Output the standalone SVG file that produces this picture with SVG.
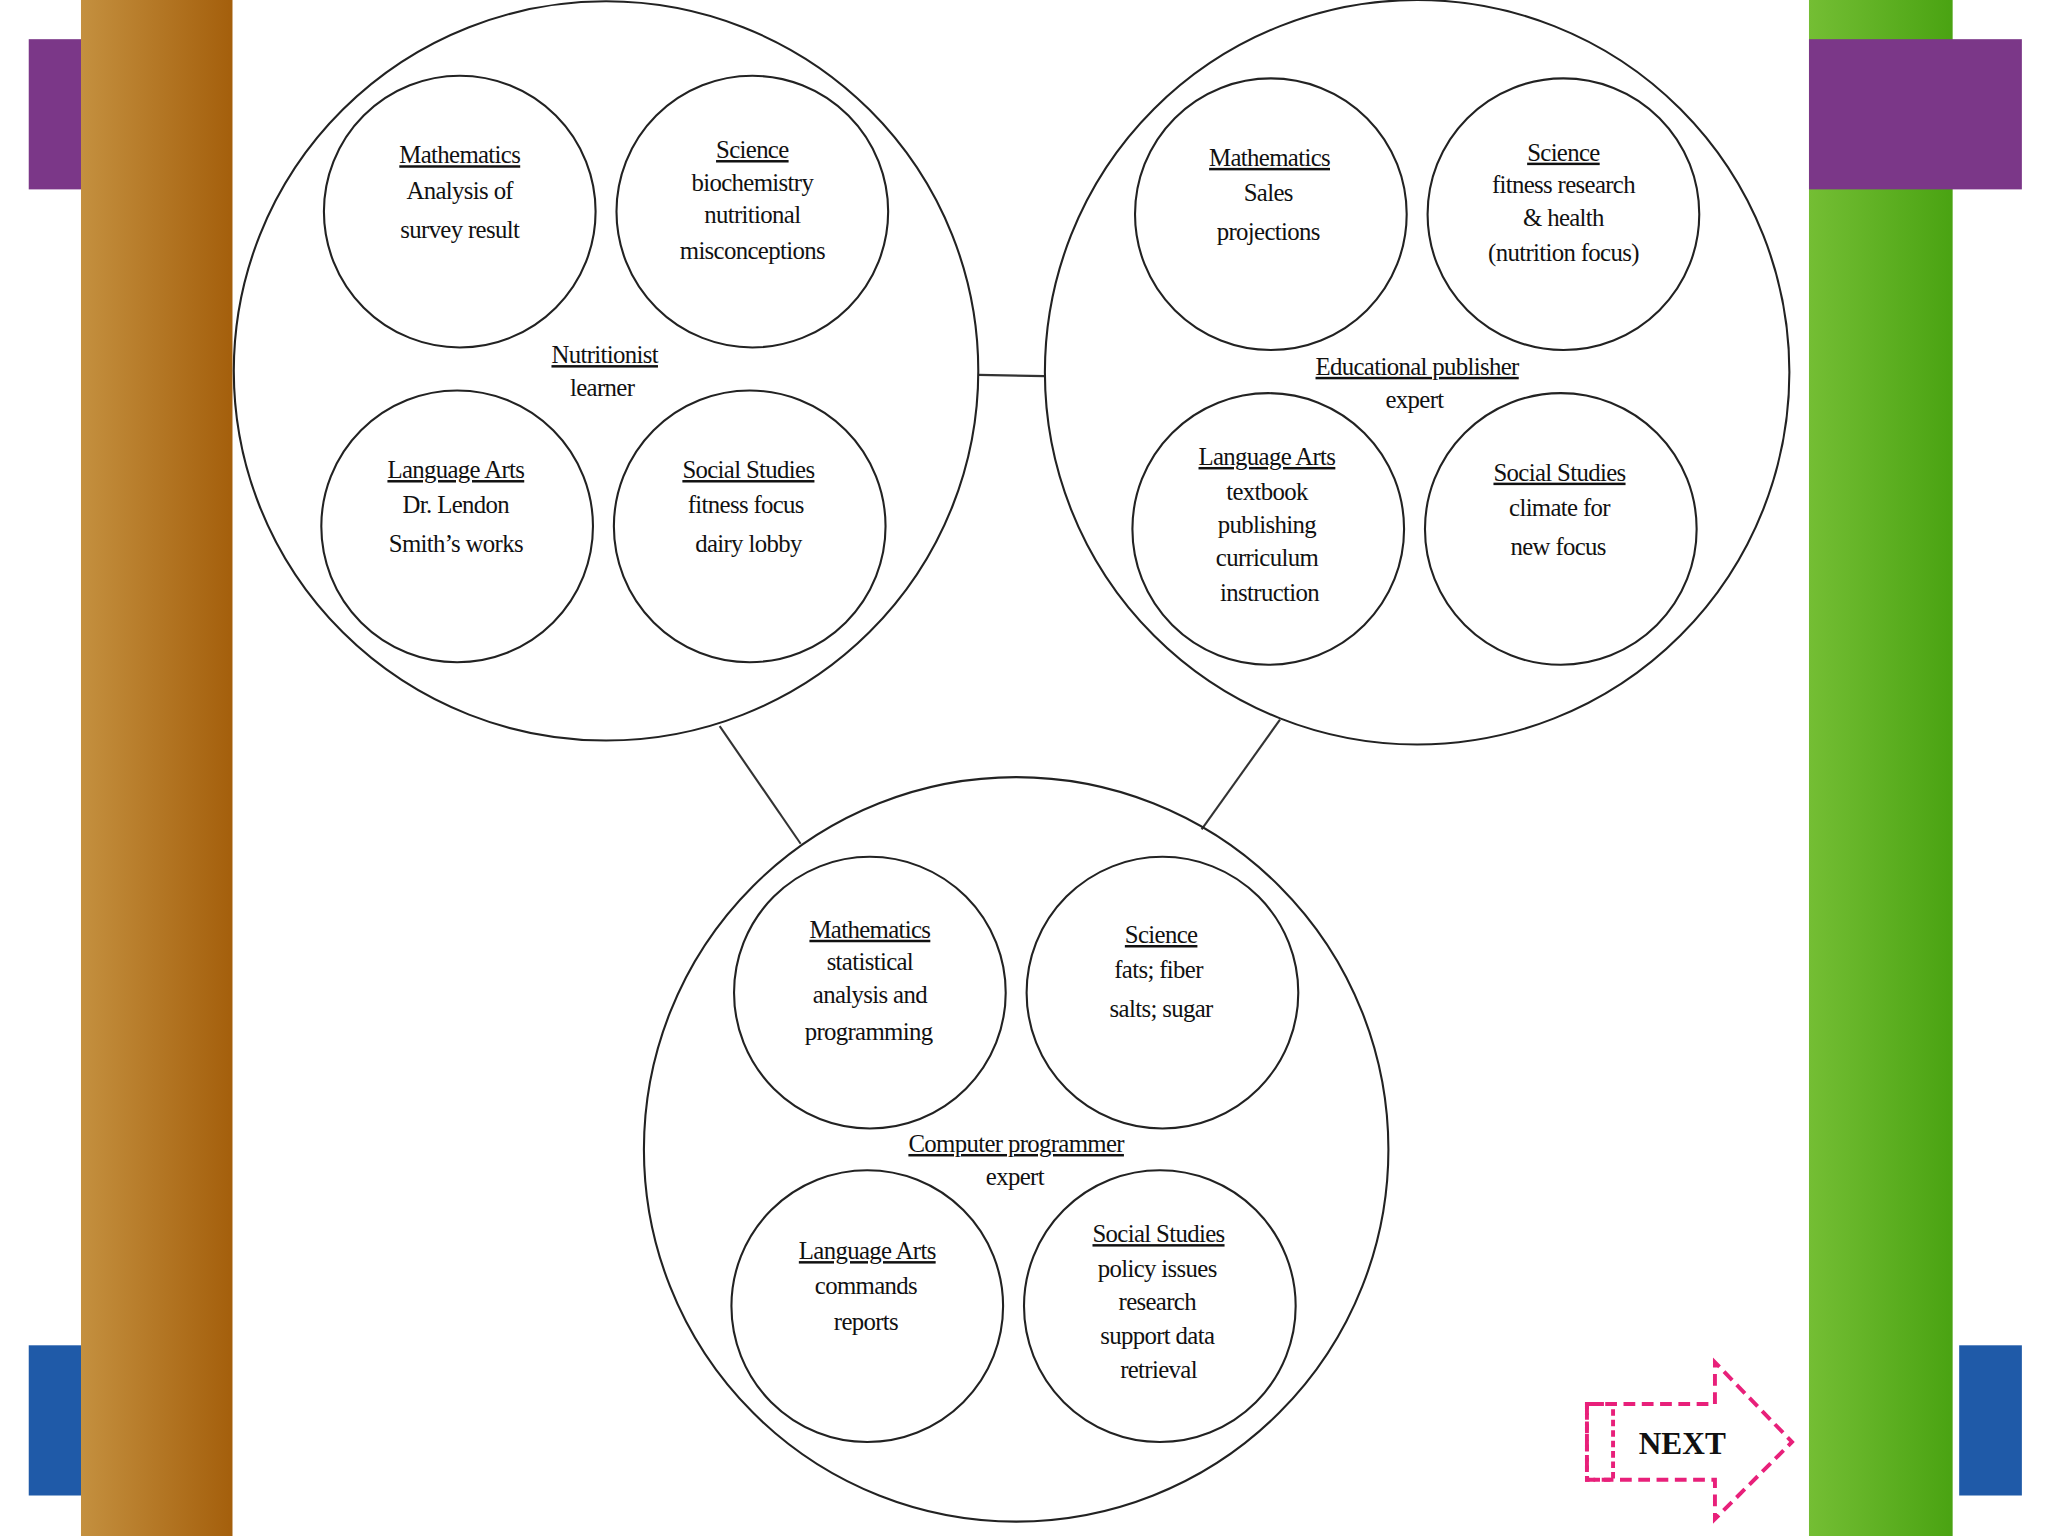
<svg xmlns="http://www.w3.org/2000/svg" width="2048" height="1536" viewBox="0 0 2048 1536">
<style>
.big,.sm{fill:none;stroke:#222;stroke-width:1.6}
.t{font-family:'Liberation Serif','Times New Roman',serif;font-size:19px;fill:#111;text-anchor:middle;letter-spacing:-0.5px}
.h{text-decoration:underline}
.c{stroke:#333;stroke-width:1.6}
</style>
<defs>
<linearGradient id="br" x1="0" x2="1"><stop offset="0" stop-color="#c4903f"/><stop offset="1" stop-color="#a45f0c"/></linearGradient>
<linearGradient id="gr" x1="0" x2="1"><stop offset="0" stop-color="#74be34"/><stop offset="1" stop-color="#4aa312"/></linearGradient>
</defs>
<rect width="2048" height="1536" fill="#fff"/>
<g transform="scale(1.30612)" font-family="Liberation Serif, serif">
<rect x="22" y="30" width="50" height="115" fill="#7b3788"/>
<rect x="22" y="1030" width="50" height="115" fill="#1f5aa8"/>
<rect x="62" y="0" width="116" height="1176" fill="url(#br)"/>
<rect x="1385" y="0" width="110" height="1176" fill="url(#gr)"/>
<rect x="1385" y="30" width="163" height="115" fill="#7b3788"/>
<rect x="1500" y="1030" width="48" height="115" fill="#1f5aa8"/>
<g id="connectors">
<line class="c" x1="749" y1="287" x2="800" y2="288"/>
<line class="c" x1="551" y1="556" x2="613" y2="646"/>
<line class="c" x1="980" y1="551" x2="920" y2="635"/>
</g>
<g id="nutritionist">
<ellipse class="big" cx="464" cy="284" rx="285" ry="283"/>
<text class="t h" x="463" y="278">Nutritionist</text><text class="t" x="461" y="303">learner</text>
<circle class="sm" cx="352" cy="162" r="104"/>
<text class="t h" x="352" y="125">Mathematics</text><text class="t" x="352" y="152">Analysis of</text><text class="t" x="352" y="182">survey result</text>
<circle class="sm" cx="576" cy="162" r="104"/>
<text class="t h" x="576" y="121">Science</text><text class="t" x="576" y="146">biochemistry</text><text class="t" x="576" y="171">nutritional</text><text class="t" x="576" y="198">misconceptions</text>
<circle class="sm" cx="350" cy="403" r="104"/>
<text class="t h" x="349" y="366">Language Arts</text><text class="t" x="349" y="393">Dr. Lendon</text><text class="t" x="349" y="423">Smith’s works</text>
<circle class="sm" cx="574" cy="403" r="104"/>
<text class="t h" x="573" y="366">Social Studies</text><text class="t" x="571" y="393">fitness focus</text><text class="t" x="573" y="423">dairy lobby</text>
</g>
<g id="publisher">
<circle class="big" cx="1085" cy="285" r="285"/>
<text class="t h" x="1085" y="287">Educational publisher</text><text class="t" x="1083" y="312">expert</text>
<circle class="sm" cx="973" cy="164" r="104"/>
<text class="t h" x="972" y="127">Mathematics</text><text class="t" x="971" y="154">Sales</text><text class="t" x="971" y="184">projections</text>
<circle class="sm" cx="1197" cy="164" r="104"/>
<text class="t h" x="1197" y="123">Science</text><text class="t" x="1197" y="148">fitness research</text><text class="t" x="1197" y="173">&amp; health</text><text class="t" x="1197" y="200">(nutrition focus)</text>
<circle class="sm" cx="971" cy="405" r="104"/>
<text class="t h" x="970" y="356">Language Arts</text><text class="t" x="970" y="383">textbook</text><text class="t" x="970" y="408">publishing</text><text class="t" x="970" y="433">curriculum</text><text class="t" x="972" y="460">instruction</text>
<circle class="sm" cx="1195" cy="405" r="104"/>
<text class="t h" x="1194" y="368">Social Studies</text><text class="t" x="1194" y="395">climate for</text><text class="t" x="1193" y="425">new focus</text>
</g>
<g id="programmer">
<circle class="big" cx="778" cy="880" r="285"/>
<text class="t h" x="778" y="882">Computer programmer</text><text class="t" x="777" y="907">expert</text>
<circle class="sm" cx="666" cy="760" r="104"/>
<text class="t h" x="666" y="718">Mathematics</text><text class="t" x="666" y="743">statistical</text><text class="t" x="666" y="768">analysis and</text><text class="t" x="665" y="796">programming</text>
<circle class="sm" cx="890" cy="760" r="104"/>
<text class="t h" x="889" y="722">Science</text><text class="t" x="887" y="749">fats; fiber</text><text class="t" x="889" y="779">salts; sugar</text>
<circle class="sm" cx="664" cy="1000" r="104"/>
<text class="t h" x="664" y="964">Language Arts</text><text class="t" x="663" y="991">commands</text><text class="t" x="663" y="1018">reports</text>
<circle class="sm" cx="888" cy="1000" r="104"/>
<text class="t h" x="887" y="951">Social Studies</text><text class="t" x="886" y="978">policy issues</text><text class="t" x="886" y="1003">research</text><text class="t" x="886" y="1029">support data</text><text class="t" x="887" y="1055">retrieval</text>
</g>
<g id="next">
<path d="M1215,1075 L1313,1075 L1313,1043 L1372,1104 L1313,1163 L1313,1133 L1215,1133 Z" fill="#fff" stroke="#e8207a" stroke-width="3" stroke-dasharray="9,5"/>
<rect x="1215" y="1075" width="20" height="58" fill="none" stroke="#e8207a" stroke-width="3" stroke-dasharray="5,3"/>
<text x="1288" y="1113" font-family="Liberation Serif,serif" font-size="24" font-weight="bold" text-anchor="middle" fill="#111">NEXT</text>
</g>
</g>
</svg>
